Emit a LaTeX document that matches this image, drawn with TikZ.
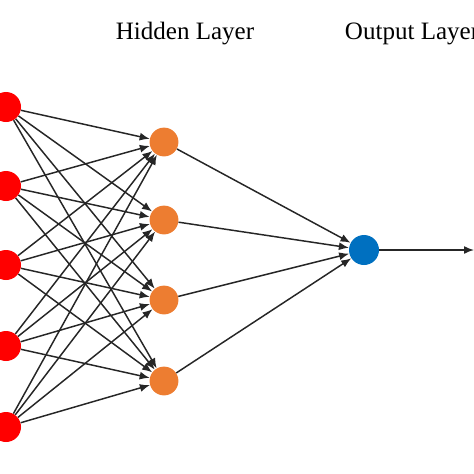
\documentclass[tikz,border=0pt]{standalone}
\usepackage{fontspec}
\setmainfont{Liberation Serif}
\usetikzlibrary{arrows.meta}
\definecolor{inred}{HTML}{FF0000}
\definecolor{hidorange}{HTML}{ED7D31}
\definecolor{outblue}{HTML}{0070C0}
\tikzset{
	neuron/.style={circle, inner sep=0pt, draw=none},
	innode/.style={neuron, fill=inred, minimum size=0.75cm},
	hidnode/.style={neuron, fill=hidorange, minimum size=0.72cm},
	outnode/.style={neuron, fill=outblue, minimum size=0.75cm},
	link/.style={line width=1.05pt, color=black!85, -{Latex[length=0.25cm, width=0.2cm]}},
	layertitle/.style={font=\fontsize{17.8}{21}\selectfont, anchor=base}
}

\begin{document}
\begin{tikzpicture}[x=0.025cm, y=-0.025cm]
			%%%%% START %%%%%
			\useasboundingbox (0, 0) rectangle (474, 474);
			
			\node[layertitle] (hidtitle) at (185, 39) {Hidden Layer};
			\node[layertitle, anchor=base west] (outtitle) at (340, 39) {Output Layer};
			
			\node[innode] (i1) at (6, 107) {};
			\node[innode] (i2) at (6, 186) {};
			\node[innode] (i3) at (6, 265) {};
			\node[innode] (i4) at (6, 346) {};
			\node[innode] (i5) at (6, 427) {};
			
			\node[hidnode] (h1) at (164, 142) {};
			\node[hidnode] (h2) at (164, 220) {};
			\node[hidnode] (h3) at (164, 300) {};
			\node[hidnode] (h4) at (164, 381) {};
			
			\node[outnode] (o1) at (364, 250) {};
			\coordinate (result) at (474, 250);
			
			\draw[link] (i1) -- (h1);
			\draw[link] (i1) -- (h2);
			\draw[link] (i1) -- (h3);
			\draw[link] (i1) -- (h4);
			
			\draw[link] (i2) -- (h1);
			\draw[link] (i2) -- (h2);
			\draw[link] (i2) -- (h3);
			\draw[link] (i2) -- (h4);
			
			\draw[link] (i3) -- (h1);
			\draw[link] (i3) -- (h2);
			\draw[link] (i3) -- (h3);
			\draw[link] (i3) -- (h4);
			
			\draw[link] (i4) -- (h1);
			\draw[link] (i4) -- (h2);
			\draw[link] (i4) -- (h3);
			\draw[link] (i4) -- (h4);
			
			\draw[link] (i5) -- (h1);
			\draw[link] (i5) -- (h2);
			\draw[link] (i5) -- (h3);
			\draw[link] (i5) -- (h4);
			
			\draw[link] (h1) -- (o1);
			\draw[link] (h2) -- (o1);
			\draw[link] (h3) -- (o1);
			\draw[link] (h4) -- (o1);
			
			\draw[link] (o1) -- (result);
			
			%%%%% END %%%%%
\end{tikzpicture}
\end{document}
